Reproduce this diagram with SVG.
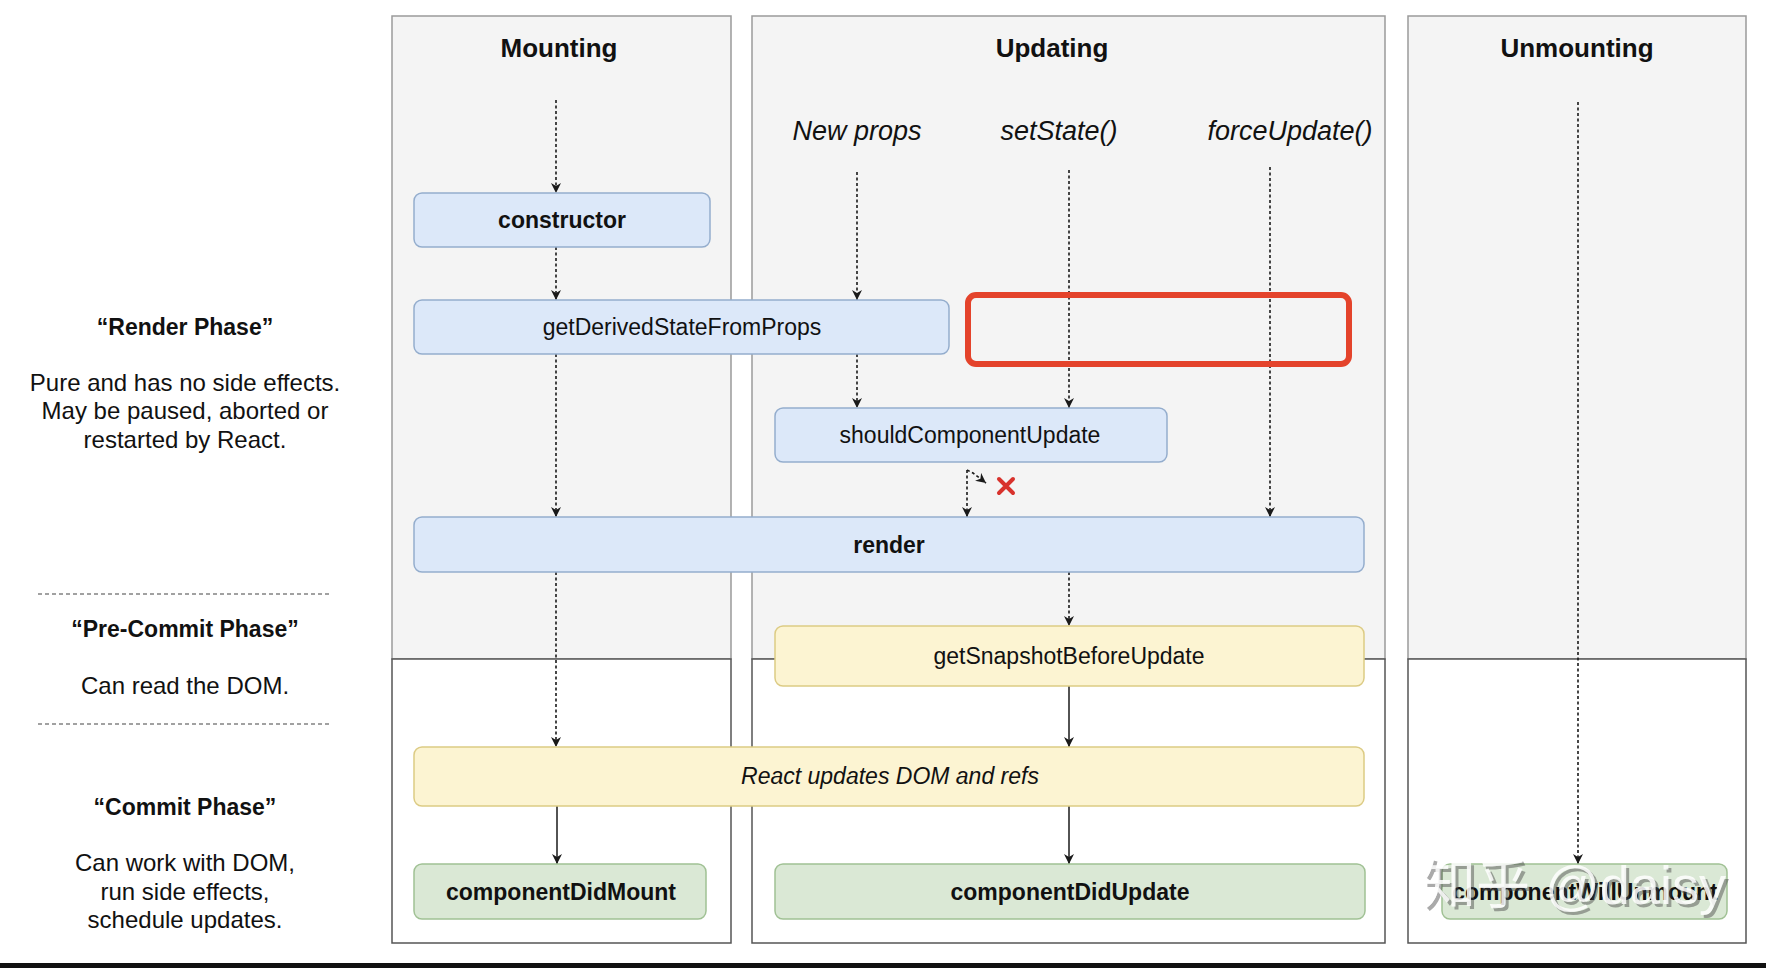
<svg xmlns="http://www.w3.org/2000/svg" width="1766" height="968" viewBox="0 0 1766 968">
<defs>
<style>
.pt{fill:#f4f4f4;stroke:#9a9a9a;stroke-width:1.5}
.pb{fill:#fff;stroke:#555;stroke-width:1.5}
.blue{fill:#dce8f9;stroke:#94adcd;stroke-width:1.5}
.yel{fill:#fcf4d2;stroke:#dccb84;stroke-width:1.5}
.grn{fill:#dae8d5;stroke:#a0c194;stroke-width:1.5}
text{font-family:"Liberation Sans",Arial,Helvetica,sans-serif;fill:#111}
.title{font-size:26px;font-weight:bold;text-anchor:middle}
.lbl{font-size:23px;text-anchor:middle}
.b{font-weight:bold}
.it{font-style:italic}
.trig{font-size:27px;font-style:italic;text-anchor:middle}
.side{font-size:24px;text-anchor:middle}
.sideT{font-size:23px;font-weight:bold;text-anchor:middle}
.dot{stroke:#1a1a1a;stroke-width:1.6;stroke-dasharray:3 2.5;fill:none}
.sol{stroke:#1a1a1a;stroke-width:1.5;fill:none}
.sep{stroke:#444;stroke-width:1.2;stroke-dasharray:4 3;fill:none}
</style>
<marker id="ah" viewBox="0 0 10 10" refX="10" refY="5" markerWidth="10" markerHeight="10" markerUnits="userSpaceOnUse" orient="auto">
<path d="M0,0 L10,5 L0,10 L3,5 z" fill="#1a1a1a"/>
</marker>
</defs>
<rect x="0" y="0" width="1766" height="968" fill="#fff"/>

<g id="panel-mounting">
<rect class="pt" x="392" y="16" width="339" height="643"/>
<rect class="pb" x="392" y="659" width="339" height="284"/>
<text class="title" x="559" y="57">Mounting</text>
</g>
<g id="panel-updating">
<rect class="pt" x="752" y="16" width="633" height="643"/>
<rect class="pb" x="752" y="659" width="633" height="284"/>
<text class="title" x="1052" y="57">Updating</text>
<text class="trig" x="857" y="140">New props</text>
<text class="trig" x="1059" y="140">setState()</text>
<text class="trig" x="1290" y="140">forceUpdate()</text>
</g>
<g id="panel-unmounting">
<rect class="pt" x="1408" y="16" width="338" height="643"/>
<rect class="pb" x="1408" y="659" width="338" height="284"/>
<text class="title" x="1577" y="57">Unmounting</text>
</g>

<g id="phase-labels">
<text class="sideT" x="185" y="335">“Render Phase”</text>
<text class="side" x="185" y="391">Pure and has no side effects.</text>
<text class="side" x="185" y="419">May be paused, aborted or</text>
<text class="side" x="185" y="448">restarted by React.</text>
<line class="sep" x1="38" y1="594" x2="330" y2="594"/>
<text class="sideT" x="185" y="637">“Pre-Commit Phase”</text>
<text class="side" x="185" y="694">Can read the DOM.</text>
<line class="sep" x1="38" y1="724" x2="330" y2="724"/>
<text class="sideT" x="185" y="815">“Commit Phase”</text>
<text class="side" x="185" y="871">Can work with DOM,</text>
<text class="side" x="185" y="900">run side effects,</text>
<text class="side" x="185" y="928">schedule updates.</text>
</g>

<g id="connectors">
<path class="dot" d="M556,100 L556,193" marker-end="url(#ah)"/>
<path class="dot" d="M556,247 L556,300" marker-end="url(#ah)"/>
<path class="dot" d="M556,354 L556,517" marker-end="url(#ah)"/>
<path class="dot" d="M556,572 L556,747" marker-end="url(#ah)"/>
<path class="sol" d="M557,806 L557,864" marker-end="url(#ah)"/>
<path class="dot" d="M857,172 L857,300" marker-end="url(#ah)"/>
<path class="dot" d="M857,354 L857,408" marker-end="url(#ah)"/>
<path class="dot" d="M1069,170 L1069,408" marker-end="url(#ah)"/>
<path class="dot" d="M1270,167 L1270,517" marker-end="url(#ah)"/>
<path class="dot" d="M967,470 L967,517" marker-end="url(#ah)"/>
<path class="dot" d="M967,470 L973,473 L986,483" marker-end="url(#ah)"/>
<path class="dot" d="M1069,572 L1069,626" marker-end="url(#ah)"/>
<path class="sol" d="M1069,686 L1069,747" marker-end="url(#ah)"/>
<path class="sol" d="M1069,806 L1069,864" marker-end="url(#ah)"/>
<path class="dot" d="M1578,102 L1578,864" marker-end="url(#ah)"/>
</g>

<g id="stop-x">
<path d="M999,479 L1013,493 M1013,479 L999,493" stroke="#d8322c" stroke-width="4" stroke-linecap="round"/>
</g>

<g id="node-constructor">
<rect class="blue" x="414" y="193" width="296" height="54" rx="8"/>
<text class="lbl b" x="562" y="228">constructor</text>
</g>
<g id="node-getDerivedStateFromProps">
<rect class="blue" x="414" y="300" width="535" height="54" rx="8"/>
<text class="lbl" x="682" y="335">getDerivedStateFromProps</text>
</g>
<g id="node-shouldComponentUpdate">
<rect class="blue" x="775" y="408" width="392" height="54" rx="8"/>
<text class="lbl" x="970" y="443">shouldComponentUpdate</text>
</g>
<g id="node-render">
<rect class="blue" x="414" y="517" width="950" height="55" rx="8"/>
<text class="lbl b" x="889" y="553">render</text>
</g>
<g id="node-getSnapshotBeforeUpdate">
<rect class="yel" x="775" y="626" width="589" height="60" rx="8"/>
<text class="lbl" x="1069" y="664">getSnapshotBeforeUpdate</text>
</g>
<g id="node-react-updates">
<rect class="yel" x="414" y="747" width="950" height="59" rx="8"/>
<text class="lbl it" x="890" y="784">React updates DOM and refs</text>
</g>
<g id="node-componentDidMount">
<rect class="grn" x="414" y="864" width="292" height="55" rx="8"/>
<text class="lbl b" x="561" y="900">componentDidMount</text>
</g>
<g id="node-componentDidUpdate">
<rect class="grn" x="775" y="864" width="590" height="55" rx="8"/>
<text class="lbl b" x="1070" y="900">componentDidUpdate</text>
</g>
<g id="node-componentWillUnmount">
<rect class="grn" x="1442" y="864" width="285" height="55" rx="8"/>
<text class="lbl b" x="1585" y="900">componentWillUnmount</text>
</g>

<g id="highlight">
<rect x="968" y="295" width="381" height="69" rx="8" fill="none" stroke="#e4432b" stroke-width="6"/>
</g>

<g id="watermark">
<text x="1425" y="907" font-size="54" style="font-family:'Liberation Sans','Noto Sans CJK SC',sans-serif;fill:#444;opacity:0.45">知乎 @daisy</text>
<text x="1422" y="904" font-size="54" style="font-family:'Liberation Sans','Noto Sans CJK SC',sans-serif;fill:#fff;opacity:0.85">知乎 @daisy</text>
</g>

<rect x="0" y="963" width="1766" height="5" fill="#111"/>
</svg>
